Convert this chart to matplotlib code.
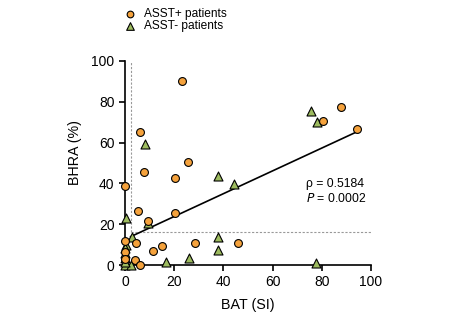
import matplotlib.pyplot as plt
import numpy as np

plt.rcParams['font.family'] = ['Liberation Sans', 'DejaVu Sans']

# ASST+ patients (circles)
pos_bat = [23, 6, 7.6, 20.2, 25.6, 0, 5.4, 20.3, 9.2, 0, 4.3, 11.2, 14.9, 28.5, 46,
           0, 0, 4, 5.9, 80.4, 87.7, 94.2]
pos_bhra = [90, 65, 45.7, 42.6, 50.6, 38.8, 26.6, 25.6, 21.7, 11.8, 10.6, 6.9, 9.5, 10.6, 10.6,
            6.5, 2.8, 2.6, 0, 70.7, 77.6, 66.7]

# ASST- patients (triangles)
neg_bat = [8.3, 37.9, 44.4, 0.3, 9.2, 3, 0.4, 0, 0, 0, 0, 2.6, 16.6, 26.1, 37.9, 37.9,
           77.6, 75.5, 77.9, 0]
neg_bhra = [59.3, 43.6, 39.5, 22.9, 20.4, 13.6, 9.8, 8.3, 5.9, 3.4, 0, 0, 1.4, 3.5, 13.6, 7.4,
            1.1, 75.6, 70.3, 1.5]

# regression line
fit_x = [2.3, 94.2]
slope, intercept = 0.559, 12.6

# cut-off lines
bat_cut = 2.3
bhra_cut = 16.3

fig = plt.figure(figsize=(4.74, 3.32), dpi=100)
ax = fig.add_axes([0.2637, 0.2018, 0.519, 0.6145])

ax.plot([bat_cut, bat_cut], [bhra_cut, 100], ls='--', color='#999999', lw=0.8, dashes=(2, 1.5))
ax.plot([bat_cut, 100], [bhra_cut, bhra_cut], ls='--', color='#999999', lw=0.8, dashes=(2, 1.5))

fx = np.array(fit_x)
ax.plot(fx, intercept + slope * fx, color='black', lw=1.2, zorder=2)

ax.scatter(neg_bat, neg_bhra, marker='^', s=42, color='#9DBB5F', edgecolor='black',
           linewidth=0.8, clip_on=False, zorder=3, label='ASST- patients')
ax.scatter(pos_bat, pos_bhra, marker='o', s=32, color='#F5A23C', edgecolor='black',
           linewidth=0.8, clip_on=False, zorder=4, label='ASST+ patients')

ax.set_xlim(0, 100)
ax.set_ylim(0, 100)
ax.set_xticks(range(0, 101, 20))
ax.set_yticks(range(0, 101, 20))
ax.spines['top'].set_visible(False)
ax.spines['right'].set_visible(False)
ax.spines['left'].set_linewidth(1.2)
ax.spines['bottom'].set_linewidth(1.2)
ax.tick_params(direction='out', length=4, width=1.2, labelsize=10)

ax.set_xlabel('BAT (SI)', fontsize=10.3, labelpad=6)
ax.set_ylabel('BHRA (%)', fontsize=10.3, labelpad=6)
ax.yaxis.set_label_coords(-0.175, 0.55)

ax.text(0.735, 0.38, 'ρ = 0.5184', transform=ax.transAxes, fontsize=8.8)
ax.text(0.735, 0.31, '$\\it{P}$ = 0.0002', transform=ax.transAxes, fontsize=8.8)

h, l = ax.get_legend_handles_labels()
fig.legend(h[::-1], l[::-1], loc='upper left', bbox_to_anchor=(0.228, 1.005), frameon=False,
           fontsize=8.6, handletextpad=0.2, labelspacing=0.05, markerscale=0.85, borderpad=0.3)

fig.savefig('out.png', dpi=100)
